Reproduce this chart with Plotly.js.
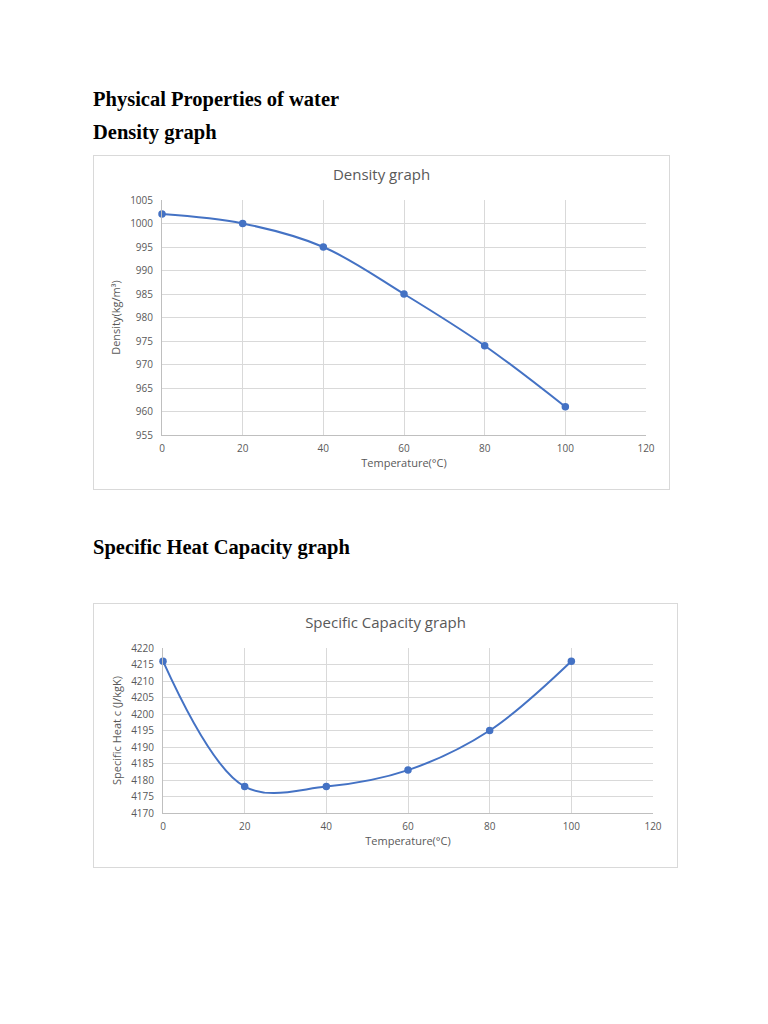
<!DOCTYPE html>
<html>
<head>
<meta charset="utf-8">
<script src="https://cdn.plot.ly/plotly-3.0.1.min.js"></script>
<style>
  html, body { margin: 0; padding: 0; background: #ffffff; width: 768px; height: 1024px; overflow: hidden; }
  .h { position: absolute; left: 93px; font-family: "Liberation Serif", "Times New Roman", serif; font-weight: bold; font-size: 20.5px; color: #000; margin: 0; white-space: nowrap; line-height: 1; }
  .box { position: absolute; border: 1px solid #d9d9d9; box-sizing: border-box; background: #fff; }
</style>
</head>
<body>
<div class="h" style="top:89px;">Physical Properties of water</div>
<div class="h" style="top:122px;">Density graph</div>
<div class="h" style="top:537px;">Specific Heat Capacity graph</div>
<div id="c1" class="box" style="left:93px; top:155px; width:577px; height:335px;"></div>
<div id="c2" class="box" style="left:93px; top:603px; width:585px; height:265px;"></div>
<script>
const temperature = [0, 20, 40, 60, 80, 100];
const density = [1002, 1000, 995, 985, 974, 961];
const specificHeat = [4216, 4178, 4178, 4183, 4195, 4216];

const blue = '#4472C4';
const grid = '#d9d9d9';
const txt = '#595959';
const fnt = 'Open Sans, Calibri, sans-serif';

function makeLayout(w, h, title, yTitle, yRange, yDtick, m) {
  return {
    width: w - 2, height: h - 2,
    margin: m,
    paper_bgcolor: '#fff', plot_bgcolor: '#fff',
    showlegend: false,
    title: { text: title, font: { family: fnt, size: 15, color: txt }, x: 0.5, xanchor: 'center', xref: 'container', y: 1 - 19 / h, yref: 'container', yanchor: 'middle' },
    xaxis: {
      range: [0, 120], dtick: 20, tick0: 0,
      showgrid: true, gridcolor: grid, gridwidth: 1,
      showline: true, linecolor: '#bfbfbf', linewidth: 1,
      zeroline: false, ticks: '', ticklabelstandoff: 4,
      tickfont: { family: fnt, size: 10, color: txt },
      title: { text: 'Temperature(°C)', font: { family: fnt, size: 11, color: txt }, standoff: 5 },
      fixedrange: true
    },
    yaxis: {
      range: yRange, dtick: yDtick, tick0: yRange[0],
      showgrid: true, gridcolor: grid, gridwidth: 1,
      showline: true, linecolor: '#bfbfbf', linewidth: 1,
      zeroline: false, ticks: '', ticklabelstandoff: 6,
      tickfont: { family: fnt, size: 10, color: txt },
      title: { text: yTitle, font: { family: fnt, size: 11, color: txt }, standoff: 7 },
      fixedrange: true
    },
    font: { family: fnt, color: txt }
  };
}

function trace(y) {
  return {
    x: temperature, y: y, type: 'scatter', mode: 'lines+markers',
    line: { color: blue, width: 2, shape: 'spline', smoothing: 1 },
    marker: { color: blue, size: 7.5 },
    cliponaxis: false, hoverinfo: 'skip'
  };
}

Plotly.newPlot('c1', [trace(density)],
  makeLayout(577, 335, 'Density graph', 'Density(kg/m³)', [955, 1005], 5, { l: 68, r: 23, t: 44, b: 54 }),
  { staticPlot: true, displayModeBar: false });

Plotly.newPlot('c2', [trace(specificHeat)],
  makeLayout(585, 265, 'Specific Capacity graph', 'Specific Heat c (J/kgK)', [4170, 4220], 5, { l: 69, r: 24, t: 44, b: 54 }),
  { staticPlot: true, displayModeBar: false });
</script>
</body>
</html>
